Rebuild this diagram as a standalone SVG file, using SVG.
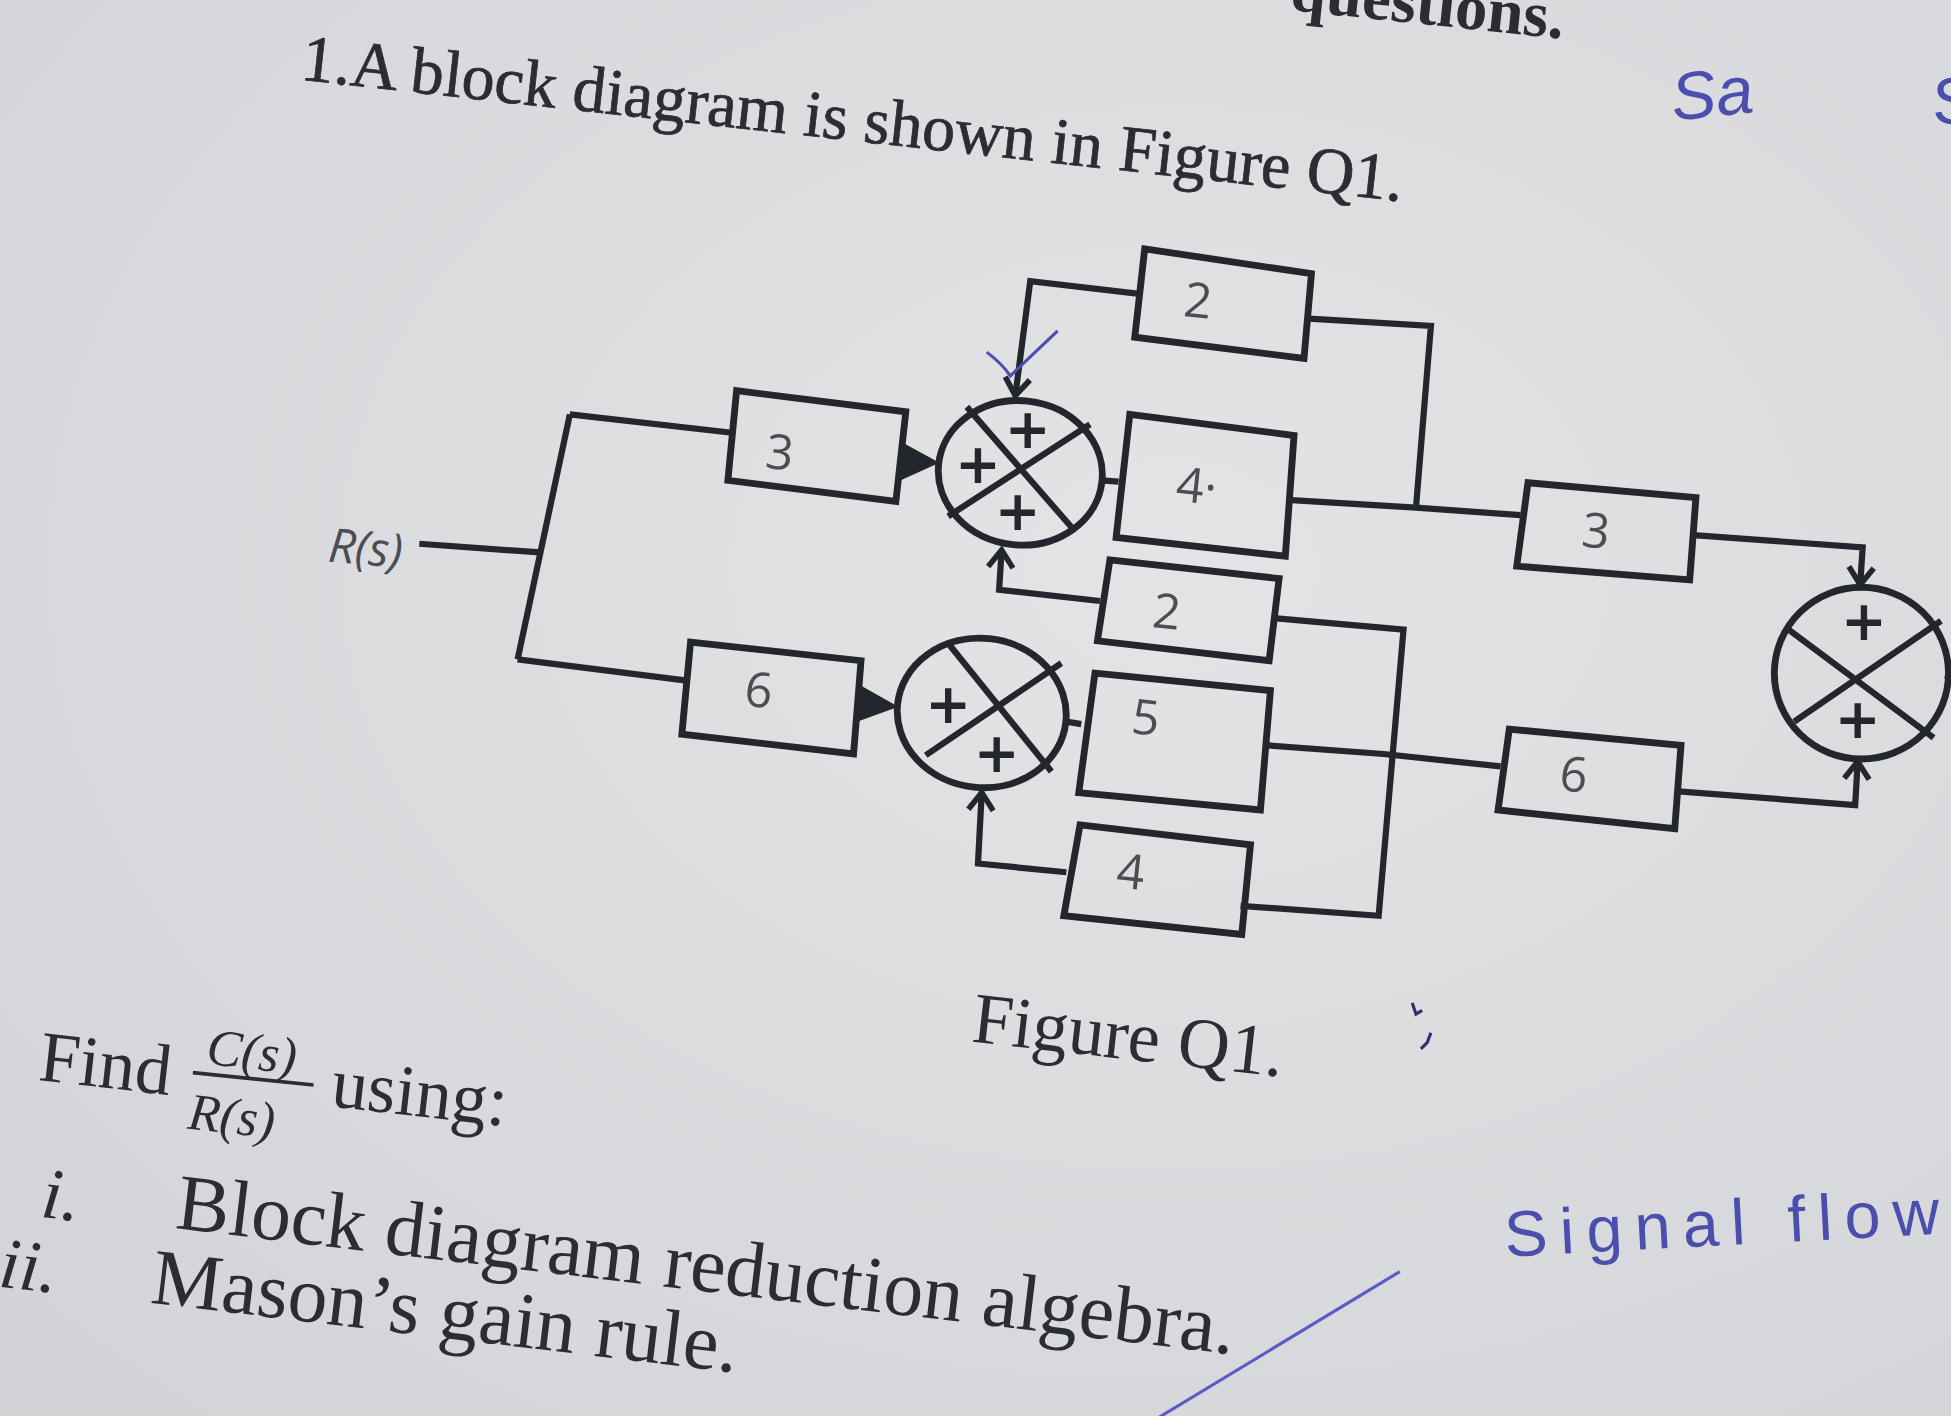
<svg xmlns="http://www.w3.org/2000/svg" width="1951" height="1416" viewBox="0 0 1951 1416">
<defs>
<radialGradient id="paper" cx="0.6" cy="0.4" r="0.8">
<stop offset="0" stop-color="#e4e4e6"/>
<stop offset="1" stop-color="#d3d4d8"/>
</radialGradient>
<marker id="open" viewBox="-16 -12 20 24" refX="0" refY="0" markerWidth="20" markerHeight="24" markerUnits="userSpaceOnUse" orient="auto">
<path d="M-14,-10 L0,0 L-14,10" fill="none" stroke="#23262c" stroke-width="4.5"/>
</marker>
<style>
.ln{fill:none;stroke:#23262c;stroke-width:5;stroke-linejoin:miter}
.box{fill:none;stroke:#23262c;stroke-width:5.5;stroke-linejoin:miter}
.sum{fill:none;stroke:#23262c;stroke-width:5.5}
.fill{fill:#23262c}
.lbl{font-family:"Open Sans","DejaVu Sans",sans-serif;font-size:39px;fill:#4b4d52;text-anchor:middle;dominant-baseline:central}
.plus{font-family:"DejaVu Sans",sans-serif;font-weight:bold;font-size:44px;fill:#23262c;text-anchor:middle;dominant-baseline:central}
.serif{font-family:"Liberation Serif",serif;fill:#2a2d33}
.hand{font-family:"Liberation Sans",sans-serif;fill:#4a4fae}
</style>
</defs>
<rect width="1951" height="1416" fill="url(#paper)"/>
<g transform="scale(1.24426)">

<!-- page text -->
<text class="serif" x="1036" y="8" font-size="52" font-weight="bold" transform="rotate(6 1036 8)">questions.</text>
<text class="serif" x="241" y="64" font-size="53" stroke="#2a2d33" stroke-width="0.6" transform="rotate(6.3 241 64)">1.A block diagram is shown in Figure Q1.</text>
<text class="hand" x="1345" y="97" font-size="54" font-style="italic" transform="rotate(-6 1345 97)">Sa</text>
<text class="hand" x="1553" y="100" font-size="54">S</text>

<!-- connectors -->
<g id="connectors">
<path class="ln" d="M337,437 L434,444"/>
<path class="ln" d="M458,333 L416,530"/>
<path class="ln" d="M458,333 L590,348"/>
<path class="ln" d="M416,530 L552,547"/>
<path class="ln" d="M722,367 L740,369"/>
<polygon class="fill" points="726,356 755,372 724,386"/>
<path class="ln" d="M688,563 L705,565"/>
<polygon class="fill" points="690,550 722,568 686,581"/>
<path class="ln" d="M914,236 L828,226 L816,318" marker-end="url(#open)"/>
<path class="ln" d="M1052,256 L1150,262 L1138,408"/>
<path class="ln" d="M885,386 L899,387"/>
<path class="ln" d="M1038,402 L1138,408 L1222,414"/>
<path class="ln" d="M1361,430 L1497,440 L1495,470" marker-end="url(#open)"/>
<path class="ln" d="M1349,636 L1491,647 L1493,612" marker-end="url(#open)"/>
<path class="ln" d="M1563,543 L1572,544"/>
<path class="ln" d="M857,580 L869,582"/>
<path class="ln" d="M1018,599 L1112,606 L1206,616"/>
<path class="ln" d="M884,483 L803,474 L805,442" marker-end="url(#open)"/>
<path class="ln" d="M1026,497 L1128,506 L1108,736 L997,728"/>
<path class="ln" d="M857,701 L786,694 L789,637" marker-end="url(#open)"/>
</g>

<!-- blocks -->
<g id="block-3a"><polygon class="box" points="592,314 728,331 720,403 585,386"/><text class="lbl" x="627" y="362" transform="rotate(6 627 362)">3</text></g>
<g id="block-6a"><polygon class="box" points="555,516 692,531 686,606 548,590"/><text class="lbl" x="610" y="553" transform="rotate(6 610 553)">6</text></g>
<g id="block-2top"><polygon class="box" points="920,200 1054,220 1048,288 912,271"/><text class="lbl" x="963" y="240" transform="rotate(6 963 240)">2</text></g>
<g id="block-4a"><polygon class="box" points="908,333 1040,350 1033,447 897,432"/><text class="lbl" x="962" y="389" transform="rotate(6 962 389)">4·</text></g>
<g id="block-2mid"><polygon class="box" points="892,450 1028,465 1020,531 882,515"/><text class="lbl" x="938" y="490" transform="rotate(6 938 490)">2</text></g>
<g id="block-5"><polygon class="box" points="880,541 1021,555 1013,651 867,637"/><text class="lbl" x="921" y="575" transform="rotate(6 921 575)">5</text></g>
<g id="block-4b"><polygon class="box" points="868,663 1005,679 998,751 855,736"/><text class="lbl" x="909" y="699" transform="rotate(6 909 699)">4</text></g>
<g id="block-3b"><polygon class="box" points="1228,388 1363,400 1358,466 1219,455"/><text class="lbl" x="1283" y="425" transform="rotate(6 1283 425)">3</text></g>
<g id="block-6b"><polygon class="box" points="1213,586 1351,599 1346,666 1204,651"/><text class="lbl" x="1265" y="621" transform="rotate(6 1265 621)">6</text></g>

<!-- summing junctions -->
<g id="sum-1">
<ellipse class="sum" cx="820" cy="380" rx="66" ry="58" transform="rotate(6 820 380)"/>
<path class="ln" d="M777,327 L864,427 M762,415 L876,341"/>
<text class="plus" x="786" y="373">+</text>
<text class="plus" x="826" y="345">+</text>
<text class="plus" x="818" y="411">+</text>
</g>
<g id="sum-2">
<ellipse class="sum" cx="789" cy="573" rx="68" ry="60" transform="rotate(6 789 573)"/>
<path class="ln" d="M762,517 L845,620 M744,607 L853,533"/>
<text class="plus" x="762" y="566">+</text>
<text class="plus" x="801" y="605">+</text>
</g>
<g id="sum-3">
<ellipse class="sum" cx="1496" cy="541" rx="70" ry="69"/>
<path class="ln" d="M1436,505 L1554,593 M1442,580 L1560,499"/>
<text class="plus" x="1498" y="499">+</text>
<text class="plus" x="1493" y="578">+</text>
</g>

<g id="rs-label"><text x="294" y="439" font-family="Open Sans, DejaVu Sans, sans-serif" font-size="38" font-style="italic" fill="#4b4d52" text-anchor="middle" dominant-baseline="central" transform="rotate(5 294 439)">R(s)</text></g>

<!-- handwritten marks -->
<path d="M793,283 Q805,292 812,302 L850,266" fill="none" stroke="#4a4fb0" stroke-width="2.5"/>
<path d="M1135,806 L1138,815 L1143,812 M1150,830 L1147,838 L1142,843" fill="none" stroke="#2c2f70" stroke-width="2.5"/>
<path d="M930,1140 L1125,1022" fill="none" stroke="#5a5cc4" stroke-width="2.5"/>
<text class="hand" x="1210" y="1010" font-size="52" textLength="350" transform="rotate(-3 1210 1010)">Signal flow</text>

<!-- bottom text -->
<text class="serif" x="780" y="837" font-size="58" transform="rotate(6.5 780 837)">Figure Q1.</text>
<text class="serif" x="30" y="868" font-size="58" transform="rotate(6.5 30 868)">Find</text>
<text class="serif" x="165" y="855" font-size="42" font-style="italic" transform="rotate(6.5 165 855)">C(s)</text>
<path d="M155,862 L252,872" stroke="#2a2d33" stroke-width="3"/>
<text class="serif" x="150" y="907" font-size="42" font-style="italic" transform="rotate(6.5 150 907)">R(s)</text>
<text class="serif" x="265" y="889" font-size="58" transform="rotate(6.5 265 889)">using:</text>
<text class="serif" x="32" y="978" font-size="58" font-style="italic" transform="rotate(6.5 32 978)">i.</text>
<text class="serif" x="140" y="987" font-size="64" transform="rotate(6.8 140 987)">Block diagram reduction algebra.</text>
<text class="serif" x="-2" y="1034" font-size="58" font-style="italic" transform="rotate(6.5 -2 1034)">ii.</text>
<text class="serif" x="120" y="1047" font-size="64" transform="rotate(6.8 120 1047)">Mason’s gain rule.</text>
</g>
</svg>
